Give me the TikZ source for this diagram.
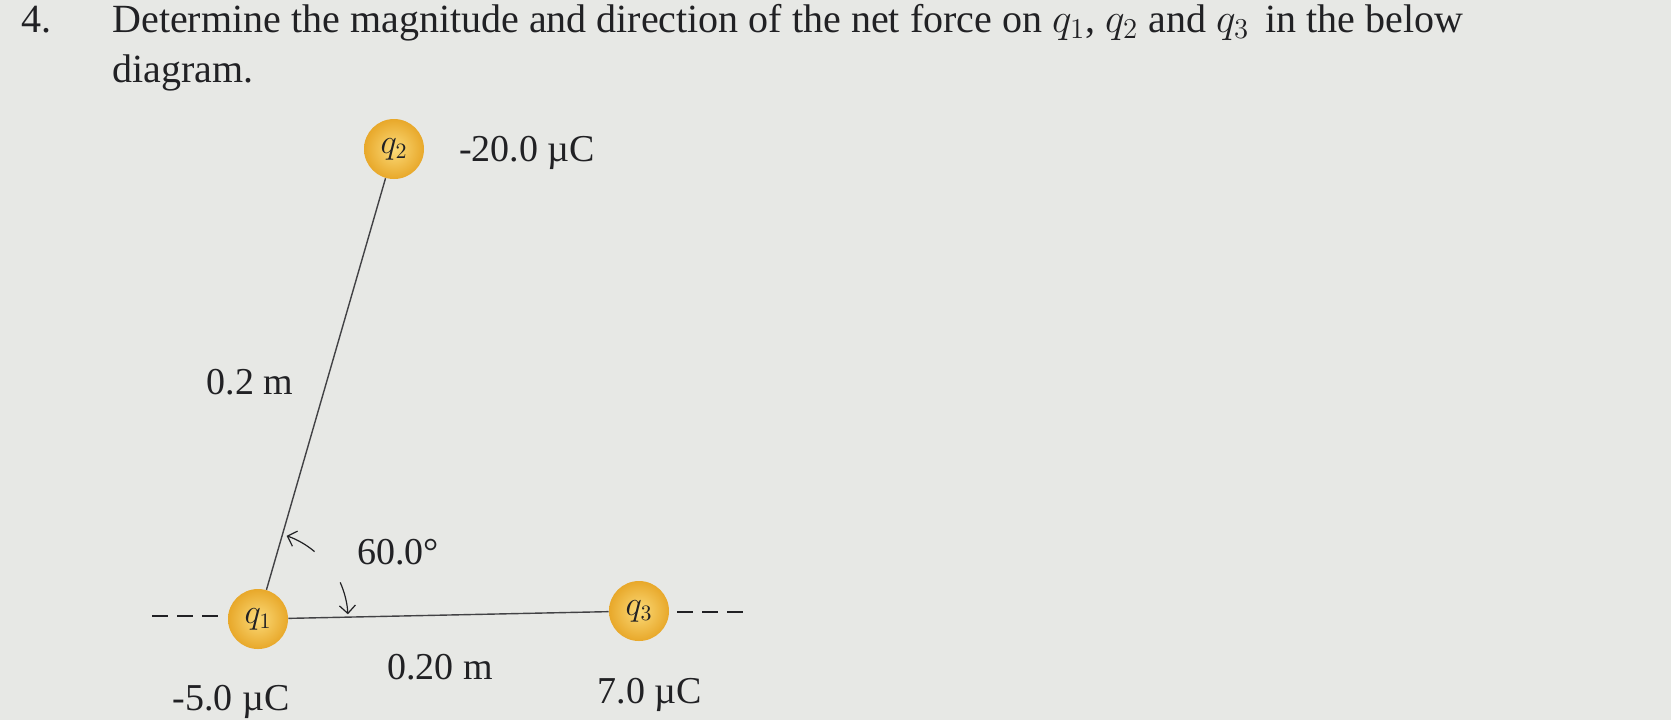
\documentclass[tikz,border=0pt]{standalone}
\usepackage{fontspec}
\setmainfont{Liberation Serif}
\usetikzlibrary{arrows.meta}
\definecolor{paper}{RGB}{231,232,229}
\definecolor{ink}{RGB}{33,33,36}
\definecolor{ballin}{RGB}{251,218,120}
\definecolor{ballout}{RGB}{232,168,42}
\begin{document}
\begin{tikzpicture}[x=0.5pt, y=-0.5pt,
    charge/.style={circle, inner color=ballin, outer color=ballout, minimum size=30pt, inner sep=0pt, text=ink, font=\fontsize{16}{16}\selectfont},
    rod/.style={draw=ink!85, line width=0.7pt},
    tail/.style={draw=ink, line width=0.9pt, dash pattern=on 8pt off 4.5pt},
    anglearrow/.style={draw=ink, line width=0.6pt, -{Straight Barb[length=4pt]}},
    question/.style={anchor=base west, inner sep=0pt, text=ink, font=\fontsize{20}{20}\selectfont},
    lbl/.style={text=ink, font=\fontsize{19}{19}\selectfont}]
    % --- Paper and frame ---
    \fill[paper] (0,0) rectangle (1671,720);
    \useasboundingbox (0,0) rectangle (1671,720);

    % --- Question text ---
    \node[question] (num) at (21,32) {4.};
    \node[question] (line1) at (112,32)
        {Determine the magnitude and direction of the net force on $q_1$, $q_2$ and $q_3$\, in the below};
    \node[question] (line2) at (112,82) {diagram.};

    % --- Charges ---
    \node[charge] (q1) at (258,619) {$q_1$};
    \node[charge] (q2) at (394,149) {$q_2$};
    \node[charge] (q3) at (639,611) {$q_3$};

    % --- Rods between charges ---
    \draw[rod] (q1) -- (q2);
    \draw[rod] (q1) -- (q3);

    % --- Dashed axis ends ---
    \coordinate (lt1) at (152,616);
    \coordinate (lt2) at (218,616);
    \coordinate (rt1) at (677,612);
    \coordinate (rt2) at (743,612);
    \draw[tail] (lt1) -- (lt2);
    \draw[tail] (rt1) -- (rt2);

    % --- Angle marks ---
    \path (q1.center) ++(-50:88) coordinate (a1);
    \path (q1.center) ++(-24:90) coordinate (a2);
    \draw[anglearrow] (a1) arc[start angle=-50, end angle=-71, radius=88];
    \draw[anglearrow] (a2) arc[start angle=-24, end angle=-3, radius=90];

    % --- Labels ---
    \node[lbl] (c2) at (527,153) {-20.0 µC};
    \node[lbl] (d12) at (250,382) {0.2 m};
    \node[lbl] (ang) at (398,552) {60.0°};
    \node[lbl] (d13) at (440,667) {0.20 m};
    \node[lbl] (c1) at (231,702) {-5.0 µC};
    \node[lbl] (c3) at (650,695) {7.0 µC};
\end{tikzpicture}
\end{document}
